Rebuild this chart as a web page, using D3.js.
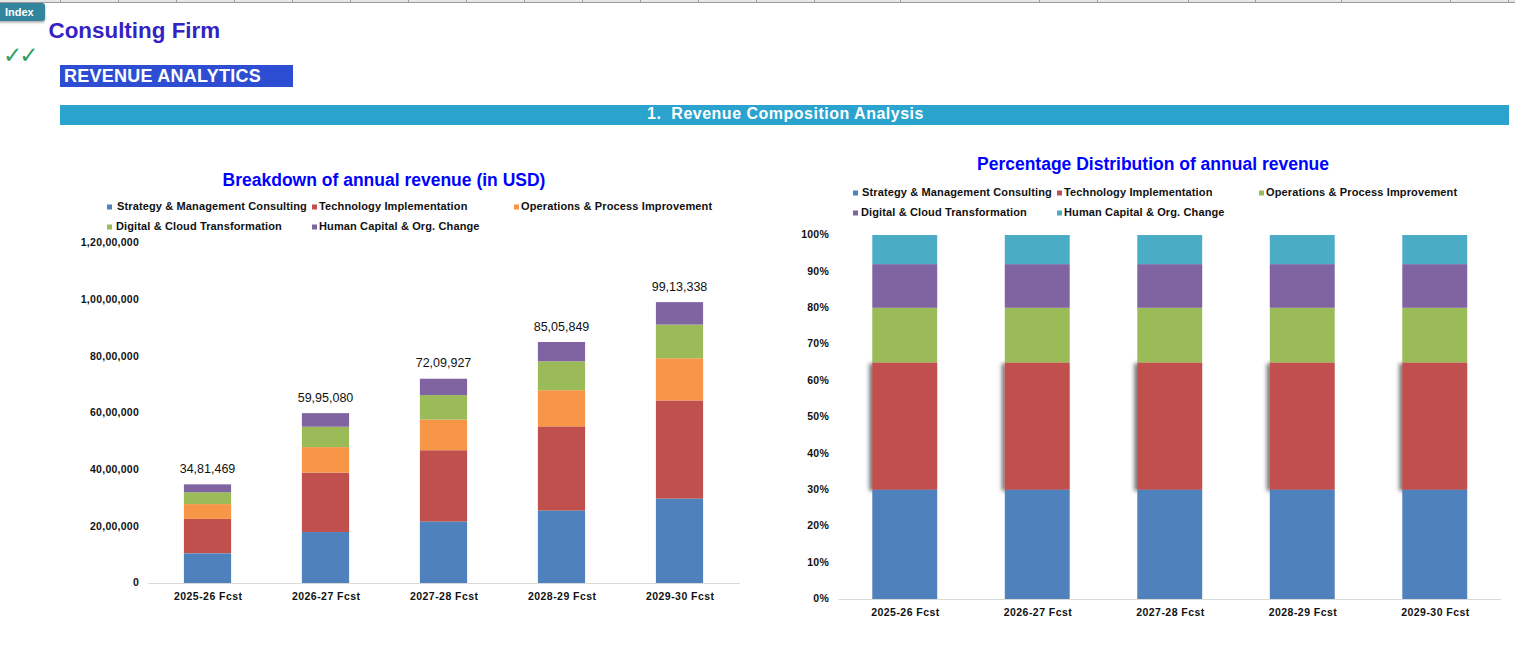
<!DOCTYPE html>
<html><head><meta charset="utf-8">
<script src="https://cdnjs.cloudflare.com/ajax/libs/d3/7.8.5/d3.min.js"></script>
<style>
html,body{margin:0;padding:0;background:#fff;overflow:hidden}
svg{display:block}
text{font-family:"Liberation Sans",Arial,sans-serif;font-weight:bold}
</style></head><body>
<svg id="c" width="1515" height="654"></svg>
<script>
const years = ["2025-26 Fcst","2026-27 Fcst","2027-28 Fcst","2028-29 Fcst","2029-30 Fcst"];
const seriesNames = ["Strategy & Management Consulting","Technology Implementation","Operations & Process Improvement","Digital & Cloud Transformation","Human Capital & Org. Change"];
const strategy   = [1044441,1798524,2162978,2551755,2974001];
const technology = [1218514,2098278,2523474,2977047,3469668];
const operations = [522220,899262,1081489,1275877,1487001];
const digital    = [417776,719410,865191,1020702,1189601];
const humanCap   = [278518,479606,576794,680468,793067];
const totals     = [3481469,5995080,7209927,8505849,9913338];
const totalLabels= ["34,81,469","59,95,080","72,09,927","85,05,849","99,13,338"];
const usdTicks   = [0,2000000,4000000,6000000,8000000,10000000,12000000];
const usdLabels  = ["0","20,00,000","40,00,000","60,00,000","80,00,000","1,00,00,000","1,20,00,000"];
const pctTicks   = [0,.1,.2,.3,.4,.5,.6,.7,.8,.9,1];
const leftColors = ["#4F81BD","#C0504D","#F79646","#9BBB59","#8064A2"];
const rightColors= ["#4F81BD","#C0504D","#9BBB59","#8064A2","#4BACC6"];
const gridTicks  = [60,118,176,234,292,350,408,466,524,582,640,698,756,814,900,1039,1097,1188,1255,1341,1450,1508];

const seriesVals = [strategy,technology,operations,digital,humanCap];
const rows = years.map((y,i)=>{const r={year:y};seriesNames.forEach((s,k)=>r[s]=seriesVals[k][i]);return r;});
const svg = d3.select("#c");
const defs = svg.append("defs");
const f = defs.append("filter").attr("id","sh").attr("x","-20%").attr("y","-5%").attr("width","140%").attr("height","110%");
f.append("feDropShadow").attr("dx",-3).attr("dy",1).attr("stdDeviation",2).attr("flood-color","#000").attr("flood-opacity",.55);
const f2 = defs.append("filter").attr("id","sb").attr("x","-20%").attr("y","-20%").attr("width","140%").attr("height","160%");
f2.append("feDropShadow").attr("dx",0).attr("dy",1.5).attr("stdDeviation",1.2).attr("flood-color","#000").attr("flood-opacity",.35);

// spreadsheet header strip
svg.append("rect").attr("x",0).attr("y",0).attr("width",1515).attr("height",2).attr("fill","#e6e6e6");
svg.append("rect").attr("x",0).attr("y",2).attr("width",1515).attr("height",1).attr("fill","#9c9c9c");
svg.selectAll(".gt").data(gridTicks).join("rect").attr("x",d=>d).attr("y",0).attr("width",1).attr("height",3).attr("fill","#9c9c9c");

// Index button
svg.append("rect").attr("x",-6).attr("y",3).attr("width",51).attr("height",18).attr("rx",3).attr("fill","#31859C").attr("filter","url(#sb)");
svg.append("text").attr("x",5).attr("y",16).attr("font-size",11).attr("fill","#fff").text("Index");

// headings
svg.append("text").attr("x",48.5).attr("y",38).attr("font-size",22.4).attr("fill","#3322C4").style("-webkit-text-stroke",".4px #3322C4").text("Consulting Firm");
svg.append("text").attr("x",3).attr("y",63).attr("font-size",23).attr("fill","#2E9E63").style("font-family","'DejaVu Sans'").style("font-weight","normal").style("letter-spacing","-3px").style("-webkit-text-stroke",".9px #2E9E63").text("✓✓");
svg.append("rect").attr("x",60).attr("y",65).attr("width",233).attr("height",22).attr("fill","#2D4DD2");
svg.append("text").attr("x",64).attr("y",82).attr("font-size",18).attr("fill","#fff").style("letter-spacing",".25px").text("REVENUE ANALYTICS");
svg.append("rect").attr("x",60).attr("y",105).attr("width",1449).attr("height",20).attr("fill","#2AA3CE");
svg.append("text").attr("x",785.5).attr("y",118.5).attr("font-size",16).attr("fill","#fff").attr("text-anchor","middle").style("white-space","pre").style("letter-spacing",".5px").text("1.  Revenue Composition Analysis");

function legend(items,colors,xs,ys,firstGap){
  items.forEach((s,i)=>{
    const row=i<3?0:1, col=i<3?i:i-3;
    const g=svg.append("g").attr("transform",`translate(${xs[row][col]},${ys[row]})`);
    g.append("rect").attr("x",0).attr("y",-5.5).attr("width",5).attr("height",5).attr("fill",colors[i]);
    g.append("text").attr("x",col===0?(row===0?firstGap:firstGap-1):7).attr("y",0).attr("font-size",11).attr("fill","#111").style("letter-spacing",".13px").text(s);
  });
}
function axisStyle(g,ls,dx,dy){
  g.selectAll(".domain").remove();
  g.selectAll(".tick line").remove();
  g.selectAll("text").attr("font-size",10.5).attr("fill","#111").style("letter-spacing",ls).attr("transform",`translate(${dx},${dy})`);
}
function chart(cfg){
  const x=d3.scaleBand().domain(years).range(cfg.xr).paddingInner(cfg.pad).paddingOuter(cfg.pad/2);
  const y=d3.scaleLinear().domain(cfg.dom).range(cfg.yr);
  const stack=d3.stack().keys(seriesNames).offset(cfg.offset)(rows);
  const g=svg.append("g");
  const order=[1,0,2,3,4];
  order.forEach(k=>{
    const layer=stack[k];
    g.append("g").selectAll("rect").data(layer).join("rect")
      .attr("x",d=>x(d.data.year)).attr("width",x.bandwidth())
      .attr("y",d=>y(d[1])).attr("height",d=>y(d[0])-y(d[1]))
      .attr("fill",cfg.colors[k])
      .attr("filter",cfg.shadow&&k===1?"url(#sh)":null);
  });
  svg.append("line").attr("x1",cfg.xr[0]).attr("x2",cfg.lineEnd).attr("y1",cfg.yr[0]+.5).attr("y2",cfg.yr[0]+.5).attr("stroke","#d9d9d9");
  const ax=svg.append("g").attr("transform",`translate(0,${cfg.yr[0]})`).call(d3.axisBottom(x).tickSize(0).tickPadding(cfg.xpad));
  axisStyle(ax,".45px",.7,0);
  const ay=svg.append("g").attr("transform",`translate(${cfg.yx},0)`).call(d3.axisLeft(y).tickValues(cfg.ticks).tickFormat(cfg.fmt).tickSize(0).tickPadding(0));
  axisStyle(ay,".25px",0,-0.6);
  return {x,y};
}
const L=chart({xr:[148.5,738.5],lineEnd:740,yr:[583,243],dom:[0,12000000],pad:.6,offset:d3.stackOffsetNone,colors:leftColors,
  ticks:usdTicks,fmt:(d,i)=>usdLabels[i],yx:139,xpad:10,shadow:false});
svg.selectAll(".tot").data(totals).join("text").attr("x",(d,i)=>L.x(years[i])+L.x.bandwidth()/2)
  .attr("y",d=>L.y(d)-11.5).attr("text-anchor","middle").attr("font-size",12.5).style("font-weight","normal")
  .style("-webkit-text-stroke",".5px #111").attr("fill","#111").text((d,i)=>totalLabels[i]);
const R=chart({xr:[838.5,1501],lineEnd:1501,yr:[599,235],dom:[0,1],pad:.51,offset:d3.stackOffsetExpand,colors:rightColors,
  ticks:pctTicks,fmt:d3.format(".0%"),yx:829,xpad:10,shadow:true});

svg.append("text").attr("x",384).attr("y",186).attr("text-anchor","middle").attr("font-size",17.5).attr("fill","#0000FF").text("Breakdown of annual revenue (in USD)");
svg.append("text").attr("x",1153).attr("y",170).attr("text-anchor","middle").attr("font-size",17.5).attr("fill","#0000FF").text("Percentage Distribution of annual revenue");
legend(seriesNames,leftColors,[[107,312,514],[107,312]],[210,230],10);
legend(seriesNames,rightColors,[[853,1057,1259],[853,1057]],[196,216],9);
</script></body></html>
